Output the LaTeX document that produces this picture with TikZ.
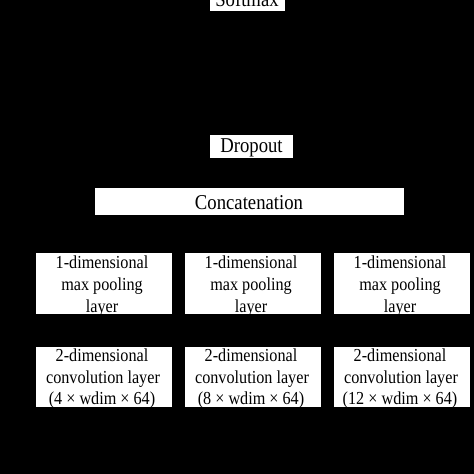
\documentclass[tikz,border=0pt]{standalone}
\usepackage{fontspec}
\setmainfont{Liberation Serif}
\newcommand{\vstretch}[1]{\scalebox{1}[1.13]{#1}}
\begin{document}
\begin{tikzpicture}[x=1pt,y=-1pt,
  bigtxt/.style={anchor=base,inner sep=0pt,text=black,font=\fontsize{18.7}{22}\selectfont},
  smalltxt/.style={anchor=base,inner sep=0pt,text=black,font=\fontsize{16.2}{20}\selectfont}]
\fill[black] (0,0) rectangle (474,474);
\useasboundingbox (0,0) rectangle (474,474);
% Softmax (cut at top)
\fill[white] (210,-5) rectangle (285,10.7);
\node[bigtxt] (softmax) at (247,6) {\vstretch{Softmax}};
% Dropout
\fill[white] (210,135) rectangle (293,158);
\node[bigtxt] (dropout) at (251.5,152.5) {\vstretch{Dropout}};
% Concatenation
\fill[white] (95,188) rectangle (404,215);
\node[bigtxt] (concat) at (249,209) {\vstretch{Concatenation}};
% pooling and convolution boxes
\foreach \i/\xl/\xr/\k in {1/36/172/4, 2/185/321/8, 3/334/470/12}{
  \fill[white] (\xl,253.3) rectangle (\xr,313.5);
  \fill[white] (\xl,347.3) rectangle (\xr,407.3);
  \pgfmathsetmacro{\cx}{(\xl+\xr)/2-2}
  \node[smalltxt] (pa\i) at (\cx,268.3) {\vstretch{1-dimensional}};
  \node[smalltxt] (pb\i) at (\cx,290.7) {\vstretch{max pooling}};
  \node[smalltxt] (pc\i) at (\cx,312.7) {\vstretch{layer}};
  \node[smalltxt] (ca\i) at (\cx,361.7) {\vstretch{2-dimensional}};
  \node[smalltxt] (cb\i) at (\cx+1,383.3) {\vstretch{convolution layer}};
  \node[smalltxt] (cc\i) at (\cx,404) {\vstretch{(\k\ × wdim × 64)}};
}
\end{tikzpicture}
\end{document}
